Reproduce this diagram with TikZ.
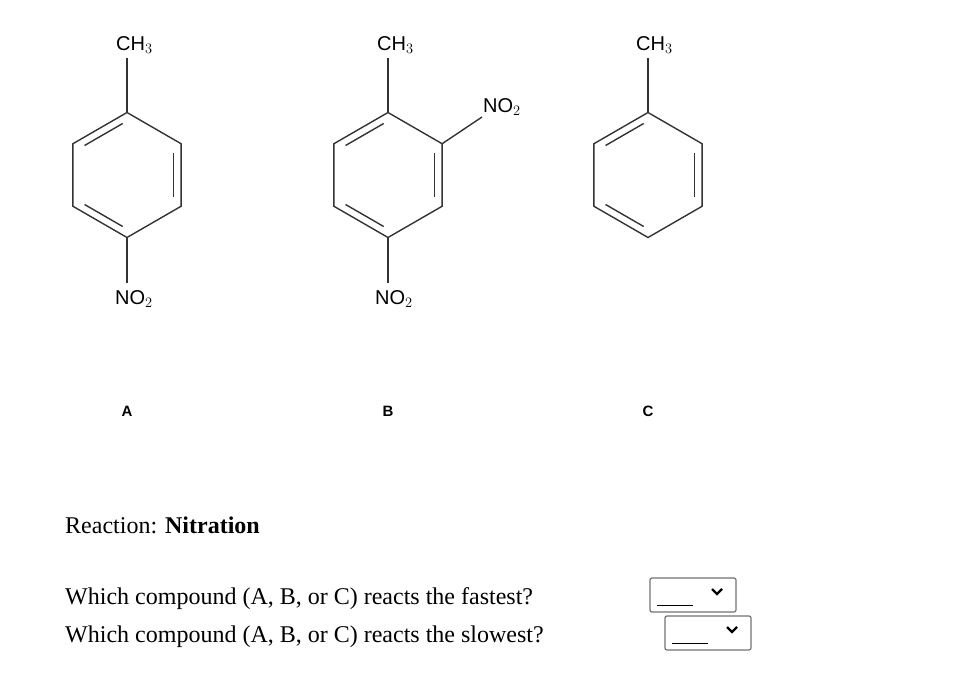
\documentclass[tikz,border=0pt]{standalone}
\usepackage{fontspec}
\setmainfont{Liberation Serif}
\newfontfamily\chem{Liberation Sans}
\begin{document}
\begin{tikzpicture}[x=1pt,y=-1pt,
  bond/.style={line width=1.4pt,draw=black!80},
  dblline/.style={line width=1.4pt,draw=black!80,shorten <=5pt,shorten >=5pt},
  chemlab/.style={font=\chem\fontsize{20}{20}\selectfont,inner sep=0pt,anchor=west},
  letterlab/.style={font=\chem\bfseries\fontsize{15}{15}\selectfont,inner sep=0pt},
  qtxt/.style={font=\fontsize{24}{24}\selectfont,anchor=base west,inner sep=0pt},
  ddbox/.style={draw=black!55,line width=1.2pt,rounded corners=2pt}]
\useasboundingbox[fill=white] (0,0) rectangle (960,692);
\foreach \n/\cx in {A/127,B/388,C/648}{
  \foreach \i/\a in {1/-90,2/-30,3/30,4/90,5/150,6/210}{
    \coordinate (\n\i) at ([shift={(\cx,175)}]\a:62.5);
    \coordinate (\n i\i) at ([shift={(\cx,175)}]\a:54);
  }
  \draw[bond] (\n1)--(\n2)--(\n3)--(\n4)--(\n5)--(\n6)--cycle;
  \draw[dblline] (\n i6)--(\n i1);
  \draw[dblline] (\n i2)--(\n i3);
  \draw[dblline] (\n i4)--(\n i5);
  \coordinate (\n top) at (\cx,58);
  \draw[bond] (\n1)--(\n top);
}
\node[chemlab] (mA) at (116,45) {CH$_3$};
\node[chemlab] (mB) at (377,45) {CH$_3$};
\node[chemlab] (mC) at (636,45) {CH$_3$};
\coordinate (Abot) at (127,283);
\coordinate (Bbot) at (388,283);
\draw[bond] (A4)--(Abot);
\draw[bond] (B4)--(Bbot);
\node[chemlab] (nA) at (115,299) {NO$_2$};
\node[chemlab] (nB) at (375,299) {NO$_2$};
\coordinate (Bside) at (482,117);
\draw[bond] (B2)--(Bside);
\node[chemlab] (nB2) at (483,107) {NO$_2$};
\node[letterlab] (lA) at (127,411) {A};
\node[letterlab] (lB) at (388,411) {B};
\node[letterlab] (lC) at (648,411) {C};
\node[qtxt] (r) at (65,533) {Reaction: \textbf{Nitration}};
\node[qtxt] (q1) at (65,604) {Which compound (A, B, or C) reacts the fastest?};
\node[qtxt] (q2) at (65,642) {Which compound (A, B, or C) reacts the slowest?};
\draw[ddbox] (650,578) rectangle (736,612);
\draw[ddbox] (665,616) rectangle (751,650);
\foreach \x/\y in {657/605,672/643}{
  \draw[line width=0.8pt] (\x,\y)--(\x+36,\y);
}
\foreach \x/\y in {717/592,732/630}{
  \draw[line width=2.4pt] (\x-5,\y-3)--(\x,\y+2)--(\x+5,\y-3);
}
\end{tikzpicture}
\end{document}
